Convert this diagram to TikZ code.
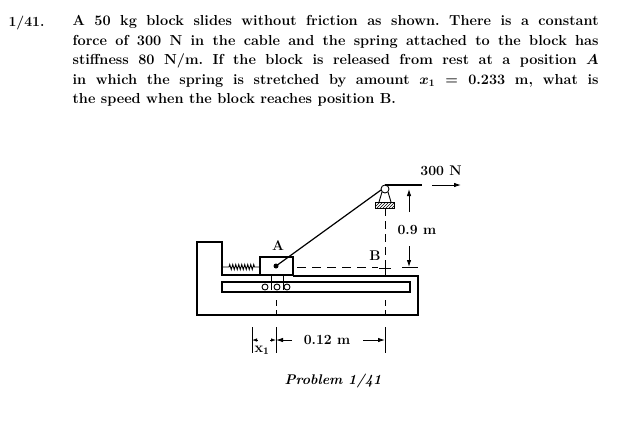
\documentclass[tikz,border=0pt]{standalone}
\usepackage{bm}
\usetikzlibrary{arrows.meta,patterns,decorations.pathmorphing}
\begin{document}
\begin{tikzpicture}[x=1pt,y=-1pt,line width=1.2pt,
  dim/.style={line width=0.8pt},
  arr/.style={-{Latex[length=7pt,width=4.5pt]},line width=0.9pt},
  lbl/.style={font=\bfseries\fontsize{14}{15}\selectfont,inner sep=1pt}]
\useasboundingbox (0,0) rectangle (617,423);
\node[anchor=north west,inner sep=0pt] (num) at (8,15) {\bfseries\fontsize{14}{19.5}\selectfont 1/41.};
\node[anchor=north west,inner sep=0pt,text width=526pt,align=justify] (txt) at (72,15)
 {\bfseries\fontsize{14.5}{19.5}\selectfont\frenchspacing A 50 kg block slides without friction as shown. There is a constant\linebreak force of 300 N in the cable and the spring attached to the block has\linebreak stiffness 80 N/m. If the block is released from rest at a position $\bm{A}$\linebreak in which the spring is stretched by amount $\bm{x_1=0.233}$ m, what is\linebreak the speed when the block reaches position B.\par};
% base
\draw (260,275) -- (222,275) -- (222,242) -- (197,242) -- (197,315) -- (418,315) -- (418,276) -- (293,276);
\draw (222,282) rectangle (410,292);
% block
\draw[fill=white] (260,257) rectangle (293,275);
\draw[line width=0.9pt] (271,275)--(271,290) (283,275)--(283,290);
\foreach \x in {265,277,287} \draw[line width=0.9pt,fill=white] (\x,287) circle (3);
\fill (276,266) circle (2.5) coordinate (dot);
% spring
\draw[line width=0.9pt,decorate,decoration={zigzag,segment length=3pt,amplitude=2.5pt,pre length=7pt,post length=5pt}] (222,267) -- (260,267);
% pulley
\coordinate (pul) at (385,189);
\draw (dot) -- (381,190);
\draw[line width=0.9pt] (pul) circle (4);
\draw[line width=0.9pt] (382,192)--(379,202) (388,192)--(391,202);
\draw[line width=0.9pt,pattern=north east lines] (375,202) rectangle (394,208);
\draw (385,185) -- (422,185);
\draw[arr] (432,185) -- (461,185);
\node[lbl] (f) at (441,171) {300 N};
% dashed lines
\draw[dim,dash pattern=on 9pt off 6pt] (297,267) -- (378,267);
\draw[dim,dash pattern=on 8pt off 5pt] (385,208) -- (385,262);
\draw[dim] (379,268)--(391,268) (385,262)--(385,276);
\node[lbl] (B) at (375,256) {B};
\node[lbl] (A) at (278,246) {A};
% 0.9 dimension
\draw[arr] (409,212) -- (409,189);
\draw[arr] (409,246) -- (409,267);
\draw[dim] (402,267)--(418,267);
\node[lbl,anchor=west] (h) at (396,230) {0.9 m};
% bottom dims
\draw[dim,dash pattern=on 6pt off 4pt] (276,300)--(276,316) (385,300)--(385,316);
\draw[dim] (252,327)--(252,353) (276,327)--(276,353) (385,327)--(385,353);
\draw[dim,-{Latex[length=5pt,width=3.5pt]}] (258,340)--(252,340);
\draw[dim,-{Latex[length=5pt,width=3.5pt]}] (270,340)--(276,340);
\draw[arr] (292,340)--(276,340);
\draw[arr] (363,340)--(385,340);
\node[lbl] (d) at (327,340) {0.12 m};
\node[lbl] (x1) at (262,350) {$\mathbf{x_1}$};
\node[font=\bfseries\itshape\fontsize{14}{16}\selectfont] (cap) at (333,381) {Problem 1/41};
\end{tikzpicture}
\end{document}
